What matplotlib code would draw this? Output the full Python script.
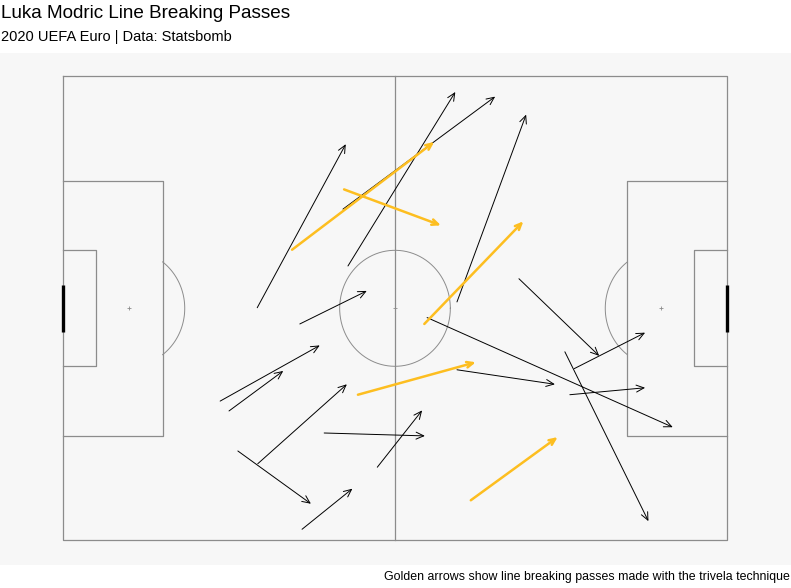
import numpy as np
import matplotlib.pyplot as plt

plt.rcParams['font.family'] = ['Liberation Sans', 'DejaVu Sans']

# Pases de Modric (coordenadas Statsbomb 120x80, y hacia abajo)
x_start = [35.1, 51.5, 50.6, 71.2, 42.8, 28.4, 30.0, 35.2, 31.6, 43.2, 47.2, 56.8,
           82.4, 65.8, 71.2, 90.7, 92.4, 91.6]
y_start = [39.9, 32.7, 22.9, 38.9, 42.7, 56.0, 57.7, 66.8, 64.6, 78.1, 61.5, 67.4,
           34.9, 41.6, 50.6, 47.5, 50.4, 54.9]
x_end = [51.1, 70.9, 78.1, 83.7, 54.9, 46.4, 39.8, 51.3, 44.8, 52.3, 65.4, 64.9,
         96.9, 110.2, 88.9, 105.8, 105.2, 105.2]
y_end = [11.7, 2.7, 3.5, 6.6, 37.0, 46.4, 50.8, 53.1, 73.7, 71.1, 62.0, 57.6,
         48.2, 60.5, 53.1, 76.7, 44.2, 53.7]

# Pases con trivela
tx_start = [41.4, 50.8, 65.3, 53.3, 73.7]
ty_start = [29.9, 19.5, 42.7, 54.9, 73.1]
tx_end = [67.1, 68.3, 83.2, 74.6, 89.4]
ty_end = [11.3, 25.7, 25.0, 49.3, 62.2]

line_col = '#8c8c8c'
gold = '#FDBE20'

fig = plt.figure(figsize=(7.91, 5.88), dpi=100)
ax = fig.add_axes([0, 23 / 588, 1, 512 / 588])
ax.set_facecolor('#F7F7F7')
ax.set_xlim(-63 / 5.533, 120 + 64 / 5.533)
ax.set_ylim(84.26, -4.02)
ax.set_xticks([])
ax.set_yticks([])
for sp in ax.spines.values():
    sp.set_visible(False)

# Campo
lw = 0.9
ax.plot([0, 120, 120, 0, 0], [0, 0, 80, 80, 0], color=line_col, lw=lw)
ax.plot([60, 60], [0, 80], color=line_col, lw=lw)
for side in [0, 120]:
    s = 1 if side == 0 else -1
    ax.plot([side, side + s * 18, side + s * 18, side], [18, 18, 62, 62], color=line_col, lw=lw)
    ax.plot([side, side + s * 6, side + s * 6, side], [30, 30, 50, 50], color=line_col, lw=lw)
    ax.plot([side + s * 12], [40], marker='+', ms=3, mew=0.6, color=line_col)
    ax.plot([side, side], [36, 44], color='black', lw=2.4, solid_capstyle='butt')
    th = np.linspace(-np.arccos(6 / 10), np.arccos(6 / 10), 60)
    ax.plot(side + s * (12 + 10 * np.cos(th)), 40 + 10 * np.sin(th), color=line_col, lw=0.7)

th = np.linspace(0, 2 * np.pi, 200)
ax.plot(60 + 10 * np.cos(th), 40 + 10 * np.sin(th), color=line_col, lw=0.7)
ax.plot([60], [40], marker='+', ms=3, mew=0.6, color=line_col)

for x0, y0, x1, y1 in zip(x_start, y_start, x_end, y_end):
    ax.annotate('', xy=(x1, y1), xytext=(x0, y0),
                arrowprops=dict(arrowstyle='->,head_length=0.55,head_width=0.25',
                                color='black', lw=0.7, shrinkA=0, shrinkB=0))

for x0, y0, x1, y1 in zip(tx_start, ty_start, tx_end, ty_end):
    ax.annotate('', xy=(x1, y1), xytext=(x0, y0),
                arrowprops=dict(arrowstyle='->,head_length=0.45,head_width=0.2',
                                color=gold, lw=1.8, shrinkA=0, shrinkB=0))

fig.text(0.001, 1 - 14 / 588, 'Luka Modric Line Breaking Passes', fontsize=13.6,
         ha='left', va='center')
fig.text(0.001, 1 - 37 / 588, '2020 UEFA Euro | Data: Statsbomb', fontsize=10.5,
         ha='left', va='center')
fig.text(0.998, 1 - 577 / 588, 'Golden arrows show line breaking passes made with the trivela technique',
         fontsize=8.9, ha='right', va='center')

fig.savefig('out.png', dpi=100)
